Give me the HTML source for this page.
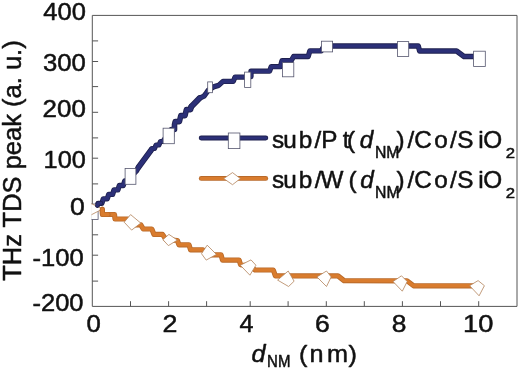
<!DOCTYPE html>
<html lang="en"><head><meta charset="utf-8"><title>THz TDS peak vs dNM</title>
<style>html,body{margin:0;padding:0;background:#fff;}svg{display:block;filter:blur(0.45px);}text{font-family:"Liberation Sans",sans-serif;stroke:#111;stroke-width:0.5px;stroke-linejoin:round;}</style>
</head><body>
<svg width="520" height="371" viewBox="0 0 520 371">
<rect x="0" y="0" width="520" height="371" fill="#fff"/>
<g id="axes" stroke="#555" stroke-width="1.0" fill="none" stroke-linecap="butt">
<path d="M92.3,15.4 H517.0 V306.4 H92.3 Z"/>
<path d="M92.3,40.9 h5.8"/>
<path d="M92.3,61.5 h5.8"/>
<path d="M92.3,86.6 h5.8"/>
<path d="M92.3,112.3 h5.8"/>
<path d="M92.3,137.9 h5.8"/>
<path d="M92.3,158.2 h5.8"/>
<path d="M92.3,183.9 h5.8"/>
<path d="M92.3,209.5 h5.8"/>
<path d="M92.3,234.8 h5.8"/>
<path d="M92.3,255.2 h5.8"/>
<path d="M92.3,281.1 h5.8"/>
<path d="M130.5,306.4 v-5.2"/>
<path d="M168.6,306.4 v-5.2"/>
<path d="M206.6,306.4 v-5.2"/>
<path d="M250.2,306.4 v-5.2"/>
<path d="M288.1,306.4 v-5.2"/>
<path d="M326.3,306.4 v-5.2"/>
<path d="M364.3,306.4 v-5.2"/>
<path d="M402.4,306.4 v-5.2"/>
<path d="M440.5,306.4 v-5.2"/>
<path d="M478.7,306.4 v-5.2"/>
</g>
<g id="ylabels" font-family="Liberation Sans, sans-serif">
<text transform="translate(43.28,20.41) scale(1.0615,1)" font-size="24.03" fill="#111" >400</text>
<text transform="translate(42.88,71.20) scale(1.0468,1)" font-size="24.59" fill="#111" >300</text>
<text transform="translate(42.55,116.51) scale(1.0736,1)" font-size="24.17" fill="#111" >200</text>
<text transform="translate(43.55,168.20) scale(1.0303,1)" font-size="24.59" fill="#111" >100</text>
<text transform="translate(70.09,214.50) scale(1.0815,1)" font-size="24.59" fill="#111" >0</text>
<text transform="translate(32.50,265.51) scale(1.0657,1)" font-size="24.03" fill="#111" >-100</text>
<text transform="translate(32.50,311.21) scale(1.0613,1)" font-size="24.03" fill="#111" >-200</text>
</g>
<g id="xlabels" font-family="Liberation Sans, sans-serif">
<text transform="translate(86.62,332.01) scale(1.0720,1)" font-size="24.03" fill="#111" >0</text>
<text transform="translate(162.51,331.85) scale(1.0937,1)" font-size="24.52" fill="#111" >2</text>
<text transform="translate(239.58,331.85) scale(1.0170,1)" font-size="24.73" fill="#111" >4</text>
<text transform="translate(315.12,331.80) scale(1.0814,1)" font-size="24.59" fill="#111" >6</text>
<text transform="translate(391.73,331.80) scale(1.0728,1)" font-size="24.59" fill="#111" >8</text>
<text transform="translate(463.00,331.61) scale(1.1152,1)" font-size="24.45" fill="#111" >10</text>
</g>
<text font-family="Liberation Sans, sans-serif" transform="translate(21.3,280.77) rotate(-90) scale(0.9625,1)" font-size="26.5" fill="#111">THz TDS peak (a. u.)</text>
<g id="xtitle">
<text font-family="Liberation Sans, sans-serif" transform="scale(1.0300,1)" font-size="24.5" fill="#111"><tspan x="244.25" y="361.80" font-style="italic">d</tspan></text>
<g font-family="Liberation Sans, sans-serif"><text transform="translate(267.12,367.45) scale(0.9104,1)" font-size="16.44" fill="#111" >NM</text></g>
<text font-family="Liberation Sans, sans-serif" transform="scale(1.0300,1)" font-size="24.5" fill="#111"><tspan x="290.41" y="361.80">(</tspan><tspan x="300.48" y="361.80">n</tspan><tspan x="317.38" y="361.80">m</tspan><tspan x="338.26" y="361.80">)</tspan></text>
</g>
<text font-family="Liberation Sans, sans-serif" transform="scale(1.0000,1)" font-size="24.3" fill="#111"><tspan x="272.03" y="148.20">s</tspan><tspan x="283.32" y="148.20">u</tspan><tspan x="298.82" y="148.20">b</tspan><tspan x="314.60" y="148.20">/</tspan><tspan x="321.30" y="148.20">P</tspan><tspan x="342.74" y="148.20">t</tspan><tspan x="347.08" y="148.20">(</tspan><tspan x="359.81" y="148.20" font-style="italic">d</tspan><tspan x="374.90" y="158.30" font-size="15.8">NM</tspan><tspan x="396.42" y="148.20">)</tspan><tspan x="407.40" y="148.20">/</tspan><tspan x="414.29" y="148.20">C</tspan><tspan x="434.37" y="148.20">o</tspan><tspan x="449.90" y="148.20">/</tspan><tspan x="457.31" y="148.20">S</tspan><tspan x="478.36" y="148.20">i</tspan><tspan x="483.25" y="148.20">O</tspan></text>
<g font-family="Liberation Sans, sans-serif"><text transform="translate(505.81,158.45) scale(1.1768,1)" font-size="14.19" fill="#111" >2</text></g>
<text font-family="Liberation Sans, sans-serif" transform="scale(1.0000,1)" font-size="24.3" fill="#111"><tspan x="272.03" y="188.00">s</tspan><tspan x="283.32" y="188.00">u</tspan><tspan x="298.82" y="188.00">b</tspan><tspan x="314.80" y="188.00">/</tspan><tspan x="320.48" y="188.00">W</tspan><tspan x="348.48" y="188.00">(</tspan><tspan x="360.21" y="188.00" font-style="italic">d</tspan><tspan x="375.00" y="198.10" font-size="15.8">NM</tspan><tspan x="396.42" y="188.00">)</tspan><tspan x="407.40" y="188.00">/</tspan><tspan x="414.29" y="188.00">C</tspan><tspan x="434.37" y="188.00">o</tspan><tspan x="449.90" y="188.00">/</tspan><tspan x="457.31" y="188.00">S</tspan><tspan x="478.36" y="188.00">i</tspan><tspan x="483.25" y="188.00">O</tspan></text>
<g font-family="Liberation Sans, sans-serif"><text transform="translate(505.81,198.25) scale(1.1768,1)" font-size="14.19" fill="#111" >2</text></g>
<clipPath id="plot"><rect x="91.5" y="15.4" width="425.5" height="291.0"/></clipPath>
<g id="series" clip-path="url(#plot)">
<path d="M97.3,205.5 L98.0,203.3 L101.9,203.3 L103.3,198.8 L107.3,198.8 L108.7,194.4 L112.6,194.4 L114.0,189.9 L117.9,189.9 L119.3,185.5 L123.3,185.5 L124.7,181.0 L128.6,181.0 L129.3,178.8 L134.0,173.5 L136.5,171.0 L138.5,167.3" fill="none" stroke="#1f214f" stroke-width="5.3" stroke-linejoin="round" stroke-linecap="round"/><path d="M138.5,167.3 L151.0,150.3" fill="none" stroke="#1f214f" stroke-width="5.8" stroke-linejoin="round" stroke-linecap="round"/><path d="M151.0,150.3 L151.7,148.5 L154.6,148.5 L156.0,145.0 L159.0,145.0 L160.4,141.4 L163.3,141.4 L164.0,139.6 L168.7,136.0" fill="none" stroke="#1f214f" stroke-width="5.0" stroke-linejoin="round" stroke-linecap="round"/><path d="M168.7,136.0 L171.5,136.0 L171.5,129.5 L174.5,129.5 L174.5,124.6 L175.2,121.6 L179.4,121.6 L180.8,115.6 L185.0,115.6 L186.4,109.6 L190.6,109.6 L191.3,106.6" fill="none" stroke="#1f214f" stroke-width="5.6" stroke-linejoin="round" stroke-linecap="round"/><path d="M191.3,106.6 L199.6,98.2" fill="none" stroke="#1f214f" stroke-width="6.0" stroke-linejoin="round" stroke-linecap="round"/><path d="M199.6,98.2 L204.0,96.1 L206.5,92.7 L208.0,90.6 L214.3,86.6 L218.6,85.4 L223.0,81.4 L233.3,81.4 L235.0,77.1 L244.8,77.0 L251.0,76.5 L251.0,71.2 L269.6,71.2 L271.2,66.7 L280.4,66.7 L282.0,60.7 L291.2,60.7 L293.6,56.5 L308.2,56.5 L309.8,50.9 L321.2,50.9 L324.0,46.0 L418.3,46.0 L419.6,51.0 L456.6,51.0 L464.0,56.5 L479.0,56.5" fill="none" stroke="#1f214f" stroke-width="5.3" stroke-linejoin="round" stroke-linecap="round"/><path d="M97.3,205.5 L98.0,203.3 L101.9,203.3 L103.3,198.8 L107.3,198.8 L108.7,194.4 L112.6,194.4 L114.0,189.9 L117.9,189.9 L119.3,185.5 L123.3,185.5 L124.7,181.0 L128.6,181.0 L129.3,178.8 L134.0,173.5 L136.5,171.0 L138.5,167.3" fill="none" stroke="#2c3078" stroke-width="3.60" stroke-linejoin="round" stroke-linecap="round"/><path d="M138.5,167.3 L151.0,150.3" fill="none" stroke="#2c3078" stroke-width="4.10" stroke-linejoin="round" stroke-linecap="round"/><path d="M151.0,150.3 L151.7,148.5 L154.6,148.5 L156.0,145.0 L159.0,145.0 L160.4,141.4 L163.3,141.4 L164.0,139.6 L168.7,136.0" fill="none" stroke="#2c3078" stroke-width="3.30" stroke-linejoin="round" stroke-linecap="round"/><path d="M168.7,136.0 L171.5,136.0 L171.5,129.5 L174.5,129.5 L174.5,124.6 L175.2,121.6 L179.4,121.6 L180.8,115.6 L185.0,115.6 L186.4,109.6 L190.6,109.6 L191.3,106.6" fill="none" stroke="#2c3078" stroke-width="3.90" stroke-linejoin="round" stroke-linecap="round"/><path d="M191.3,106.6 L199.6,98.2" fill="none" stroke="#2c3078" stroke-width="4.30" stroke-linejoin="round" stroke-linecap="round"/><path d="M199.6,98.2 L204.0,96.1 L206.5,92.7 L208.0,90.6 L214.3,86.6 L218.6,85.4 L223.0,81.4 L233.3,81.4 L235.0,77.1 L244.8,77.0 L251.0,76.5 L251.0,71.2 L269.6,71.2 L271.2,66.7 L280.4,66.7 L282.0,60.7 L291.2,60.7 L293.6,56.5 L308.2,56.5 L309.8,50.9 L321.2,50.9 L324.0,46.0 L418.3,46.0 L419.6,51.0 L456.6,51.0 L464.0,56.5 L479.0,56.5" fill="none" stroke="#2c3078" stroke-width="3.60" stroke-linejoin="round" stroke-linecap="round"/>
<path d="M102.3,209.0 L102.5,214.5 L114.5,214.5 L115.0,219.0 L128.0,219.0 L134.0,224.8 L140.8,224.8 L143.3,229.0 L151.8,229.0 L154.0,234.4 L162.5,234.4 L166.0,239.5 L177.4,240.5 L179.0,244.8 L189.0,244.8 L190.5,249.8 L203.0,249.8 L208.0,254.8 L221.0,254.8 L222.5,260.1 L239.1,260.1 L240.5,264.6 L250.0,266.0 L255.0,270.0 L273.3,270.0 L275.4,275.9 L338.0,275.9 L344.0,280.6 L407.0,280.8 L413.6,285.8 L478.0,285.8" fill="none" stroke="#b96a2a" stroke-width="5.2" stroke-linejoin="round" stroke-linecap="round"/><path d="M102.3,209.0 L102.5,214.5 L114.5,214.5 L115.0,219.0 L128.0,219.0 L134.0,224.8 L140.8,224.8 L143.3,229.0 L151.8,229.0 L154.0,234.4 L162.5,234.4 L166.0,239.5 L177.4,240.5 L179.0,244.8 L189.0,244.8 L190.5,249.8 L203.0,249.8 L208.0,254.8 L221.0,254.8 L222.5,260.1 L239.1,260.1 L240.5,264.6 L250.0,266.0 L255.0,270.0 L273.3,270.0 L275.4,275.9 L338.0,275.9 L344.0,280.6 L407.0,280.8 L413.6,285.8 L478.0,285.8" fill="none" stroke="#d97c2e" stroke-width="3.50" stroke-linejoin="round" stroke-linecap="round"/>
<rect x="86.5" y="204.0" width="11.6" height="15.5" fill="#fff" stroke="#55566e" stroke-width="0.8"/>
<polygon points="102.5,209 88,202 80,209 88,216.5" fill="#fff" stroke="#b3835a" stroke-width="0.8"/>
<path d="M97.3,205.5 L98.2,203.3 L101.0,203.3" fill="none" stroke="#1f214f" stroke-width="4.6" stroke-linejoin="round" stroke-linecap="round"/><path d="M97.3,205.5 L98.2,203.3 L101.0,203.3" fill="none" stroke="#2c3078" stroke-width="2.90" stroke-linejoin="round" stroke-linecap="round"/>
<path d="M102.3,209.5 L102.5,214.5 L108.0,214.5" fill="none" stroke="#b96a2a" stroke-width="5.2" stroke-linejoin="round" stroke-linecap="round"/><path d="M102.3,209.5 L102.5,214.5 L108.0,214.5" fill="none" stroke="#d97c2e" stroke-width="3.50" stroke-linejoin="round" stroke-linecap="round"/>
<rect x="125.1" y="168.4" width="10.8" height="15.9" fill="#fff" stroke="#55566e" stroke-width="0.8"/>
<rect x="163.1" y="128.2" width="11.2" height="15.5" fill="#fff" stroke="#55566e" stroke-width="0.8"/>
<rect x="207.7" y="81.9" width="4.7" height="10.8" fill="#fff" stroke="#55566e" stroke-width="0.8"/>
<rect x="244.6" y="72.1" width="6.2" height="15.3" fill="#fff" stroke="#55566e" stroke-width="0.8"/>
<rect x="282.4" y="62.6" width="11.4" height="14.2" fill="#fff" stroke="#55566e" stroke-width="0.8"/>
<rect x="321.4" y="41.2" width="11.2" height="10.7" fill="#fff" stroke="#55566e" stroke-width="0.8"/>
<rect x="397.4" y="41.6" width="11.3" height="14.9" fill="#fff" stroke="#55566e" stroke-width="0.8"/>
<rect x="473.6" y="51.2" width="11.7" height="15.3" fill="#fff" stroke="#55566e" stroke-width="0.8"/>
<polygon points="130.6,214.6 140.8,223.1 131.6,230.1 124.2,222.2" fill="#fff" stroke="#b3835a" stroke-width="0.8"/>
<polygon points="168.9,234.4 177.4,240.1 168.4,245.6 162.9,239.7" fill="#fff" stroke="#b3835a" stroke-width="0.8"/>
<polygon points="207.2,245.2 216.4,254.4 206.2,260.1 201.5,253.7" fill="#fff" stroke="#b3835a" stroke-width="0.8"/>
<polygon points="251,259.9 255.9,265.2 249.9,275.2 240.3,265.2" fill="#fff" stroke="#b3835a" stroke-width="0.8"/>
<polygon points="288.2,271 294.1,281.2 288.6,286.5 277.6,280.1" fill="#fff" stroke="#b3835a" stroke-width="0.8"/>
<polygon points="326.5,271 331.2,276.9 326.5,286.5 316.9,276.9" fill="#fff" stroke="#b3835a" stroke-width="0.8"/>
<polygon points="401.5,275.8 407.2,281.5 402.3,291.2 393,281.5" fill="#fff" stroke="#b3835a" stroke-width="0.8"/>
<polygon points="478.1,280.6 484.4,285.7 479.1,295.8 469.6,285.7" fill="#fff" stroke="#b3835a" stroke-width="0.8"/>
</g>
<path d="M201.2,138.0 L265.8,138.0" fill="none" stroke="#1f214f" stroke-width="4.9" stroke-linejoin="round" stroke-linecap="round"/><path d="M201.2,138.0 L265.8,138.0" fill="none" stroke="#2c3078" stroke-width="3.20" stroke-linejoin="round" stroke-linecap="round"/>
<rect x="228.3" y="133.0" width="11.6" height="15.6" fill="#fff" stroke="#55566e" stroke-width="0.8"/>
<path d="M201.2,178.4 L265.8,178.4" fill="none" stroke="#b96a2a" stroke-width="4.7" stroke-linejoin="round" stroke-linecap="round"/><path d="M201.2,178.4 L265.8,178.4" fill="none" stroke="#d97c2e" stroke-width="3.00" stroke-linejoin="round" stroke-linecap="round"/>
<polygon points="232.5,172.6 240.4,178.6 232.5,184.7 223.7,178.6" fill="#fff" stroke="#b3835a" stroke-width="0.8"/>
</svg>
</body></html>
